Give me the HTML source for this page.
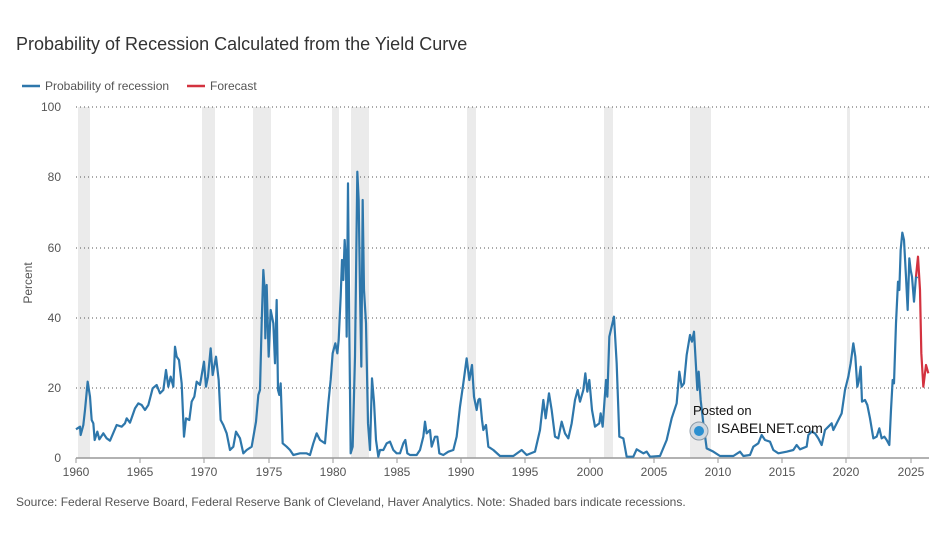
<!DOCTYPE html>
<html><head><meta charset="utf-8"><style>
body{margin:0;background:#fff;width:950px;height:540px;overflow:hidden;font-family:"Liberation Sans",Arial,sans-serif}
</style></head><body>
<svg width="950" height="540" xmlns="http://www.w3.org/2000/svg" font-family="Liberation Sans, Arial, sans-serif">
<text x="16" y="50" font-size="18" fill="#333">Probability of Recession Calculated from the Yield Curve</text>
<line x1="22" y1="86" x2="40" y2="86" stroke="#2e77ab" stroke-width="2.5"/>
<text x="45" y="90" font-size="12" fill="#555">Probability of recession</text>
<line x1="187" y1="86" x2="205" y2="86" stroke="#d3323f" stroke-width="2.5"/>
<text x="210" y="90" font-size="12" fill="#555">Forecast</text>
<g fill="#ebebeb">
<rect x="78" y="107" width="12" height="351"/><rect x="202" y="107" width="13" height="351"/>
<rect x="253" y="107" width="18" height="351"/><rect x="332" y="107" width="7" height="351"/>
<rect x="351" y="107" width="18" height="351"/><rect x="467" y="107" width="9" height="351"/>
<rect x="604" y="107" width="9" height="351"/><rect x="690" y="107" width="21" height="351"/>
<rect x="847" y="107" width="3" height="351"/>
</g>
<g stroke="#555" stroke-dasharray="1,3" stroke-width="1">
<line x1="76" y1="107" x2="929" y2="107"/><line x1="76" y1="177" x2="929" y2="177"/>
<line x1="76" y1="248" x2="929" y2="248"/><line x1="76" y1="318" x2="929" y2="318"/>
<line x1="76" y1="388" x2="929" y2="388"/>
</g>
<line x1="76" y1="458" x2="929" y2="458" stroke="#999" stroke-width="1.5"/>
<g font-size="12" fill="#555" text-anchor="end">
<text x="61" y="111">100</text><text x="61" y="181">80</text><text x="61" y="252">60</text>
<text x="61" y="322">40</text><text x="61" y="392">20</text><text x="61" y="462">0</text>
</g>
<text transform="translate(32,283) rotate(-90)" font-size="12" fill="#555" text-anchor="middle">Percent</text>
<g font-size="12" fill="#555" text-anchor="middle">
<text x="76" y="476">1960</text><text x="140" y="476">1965</text><text x="204" y="476">1970</text>
<text x="269" y="476">1975</text><text x="333" y="476">1980</text><text x="397" y="476">1985</text>
<text x="461" y="476">1990</text><text x="525" y="476">1995</text><text x="590" y="476">2000</text>
<text x="654" y="476">2005</text><text x="718" y="476">2010</text><text x="782" y="476">2015</text>
<text x="846" y="476">2020</text><text x="911" y="476">2025</text>
</g>
<g stroke="#999" stroke-width="1">
<line x1="76" y1="458" x2="76" y2="463"/><line x1="140" y1="458" x2="140" y2="463"/><line x1="204" y1="458" x2="204" y2="463"/><line x1="269" y1="458" x2="269" y2="463"/><line x1="333" y1="458" x2="333" y2="463"/><line x1="397" y1="458" x2="397" y2="463"/><line x1="461" y1="458" x2="461" y2="463"/><line x1="525" y1="458" x2="525" y2="463"/><line x1="590" y1="458" x2="590" y2="463"/><line x1="654" y1="458" x2="654" y2="463"/><line x1="718" y1="458" x2="718" y2="463"/><line x1="782" y1="458" x2="782" y2="463"/><line x1="846" y1="458" x2="846" y2="463"/><line x1="911" y1="458" x2="911" y2="463"/>
</g>
<g transform="translate(60,90) scale(0.33333)" fill="none" stroke-linejoin="round">
<polyline stroke="#2e77ab" stroke-width="2.2" vector-effect="non-scaling-stroke" points="48,1018 60,1010 62,1035 70,1005 75,960 83,875 90,920 95,990 100,1000 104,1050 112,1025 118,1048 130,1030 140,1045 150,1052 170,1005 185,1010 195,1000 200,985 210,998 225,955 235,940 245,945 255,960 265,945 278,895 290,885 300,910 310,900 318,840 325,890 332,860 340,890 345,770 350,800 357,810 365,880 372,1040 378,985 388,990 395,935 403,920 410,875 420,885 432,815 438,890 444,860 452,775 458,855 468,800 476,870 482,990 490,1005 500,1030 510,1080 520,1070 528,1025 540,1045 550,1090 560,1080 575,1070 588,995 595,915 600,900 605,700 610,540 614,600 616,745 620,585 626,800 632,660 640,700 645,820 650,630 654,900 658,915 662,880 668,1060 680,1070 690,1080 700,1095 720,1090 740,1090 750,1095 760,1060 770,1030 780,1050 795,1060 805,940 812,870 818,790 826,760 832,790 836,750 842,620 846,510 850,570 854,450 858,520 860,740 864,280 868,720 872,1090 878,1070 885,800 892,245 896,330 900,600 904,830 908,330 912,600 918,700 924,1000 930,1080 936,865 942,935 948,1050 955,1100 960,1080 970,1080 980,1060 990,1055 1000,1080 1010,1090 1020,1090 1030,1060 1036,1050 1042,1090 1050,1095 1070,1095 1080,1080 1090,1040 1095,995 1100,1030 1110,1020 1115,1070 1125,1040 1132,1040 1138,1090 1150,1095 1165,1085 1180,1080 1190,1040 1200,950 1210,880 1220,805 1228,870 1236,825 1242,920 1250,960 1255,930 1260,925"/>
</g>
<g transform="translate(480,90) scale(0.33333)" fill="none" stroke-linejoin="round">
<polyline stroke="#2e77ab" stroke-width="2.2" vector-effect="non-scaling-stroke" points="0,925 6,990 10,1020 18,1005 25,1070 40,1080 60,1098 100,1098 125,1080 140,1095 165,1085 180,1020 190,930 197,985 207,910 215,960 225,1040 235,1045 245,995 255,1030 265,1045 275,1000 285,930 293,900 300,935 310,900 316,850 322,905 328,870 336,960 345,1010 358,1000 362,970 368,1010 378,870 382,920 388,740 395,710 402,680 410,820 418,1040 430,1045 440,1100 460,1100 470,1078 490,1090 500,1085 510,1100 540,1098 560,1050 575,985 590,940 598,845 605,890 612,880 620,795 630,735 636,755 642,725 648,830 652,900 656,845 662,930 670,1000 680,1075 700,1085 720,1098 760,1098 780,1085 790,1098 810,1095 820,1070 835,1060 845,1035 855,1050 870,1055 880,1080 895,1090 920,1085 940,1080 950,1065 960,1078 980,1070 985,1035 995,1025 1005,1030 1015,1045 1025,1065 1035,1020 1045,1010 1055,1000 1060,1020 1070,1000 1085,970 1095,900 1105,860 1112,820 1120,760 1126,800 1132,890 1136,875 1142,830 1146,935 1155,930 1162,945 1170,985 1180,1045 1190,1040 1198,1015 1205,1045 1213,1040 1220,1050 1228,1065 1233,960 1238,870 1242,880 1248,700 1254,575 1258,600 1262,480 1267,428 1272,450 1278,560 1283,660 1288,505 1292,540 1296,560 1302,635 1308,560 1312,565"/>
<polyline stroke="#d3323f" stroke-width="2.2" vector-effect="non-scaling-stroke" points="1308,560 1314,500 1320,600 1324,790 1330,890 1338,825 1345,850"/>
</g>
<text x="693" y="415" font-size="13" fill="#111">Posted on</text>
<circle cx="699" cy="431" r="9" fill="#cfd8e0" stroke="#8a9aa8"/>
<circle cx="699" cy="431" r="5" fill="#2a8fd0"/>
<text x="717" y="433" font-size="14" fill="#111">ISABELNET.com</text>
<text x="16" y="506" font-size="12" fill="#555">Source: Federal Reserve Board, Federal Reserve Bank of Cleveland, Haver Analytics. Note: Shaded bars indicate recessions.</text>
</svg>
</body></html>
